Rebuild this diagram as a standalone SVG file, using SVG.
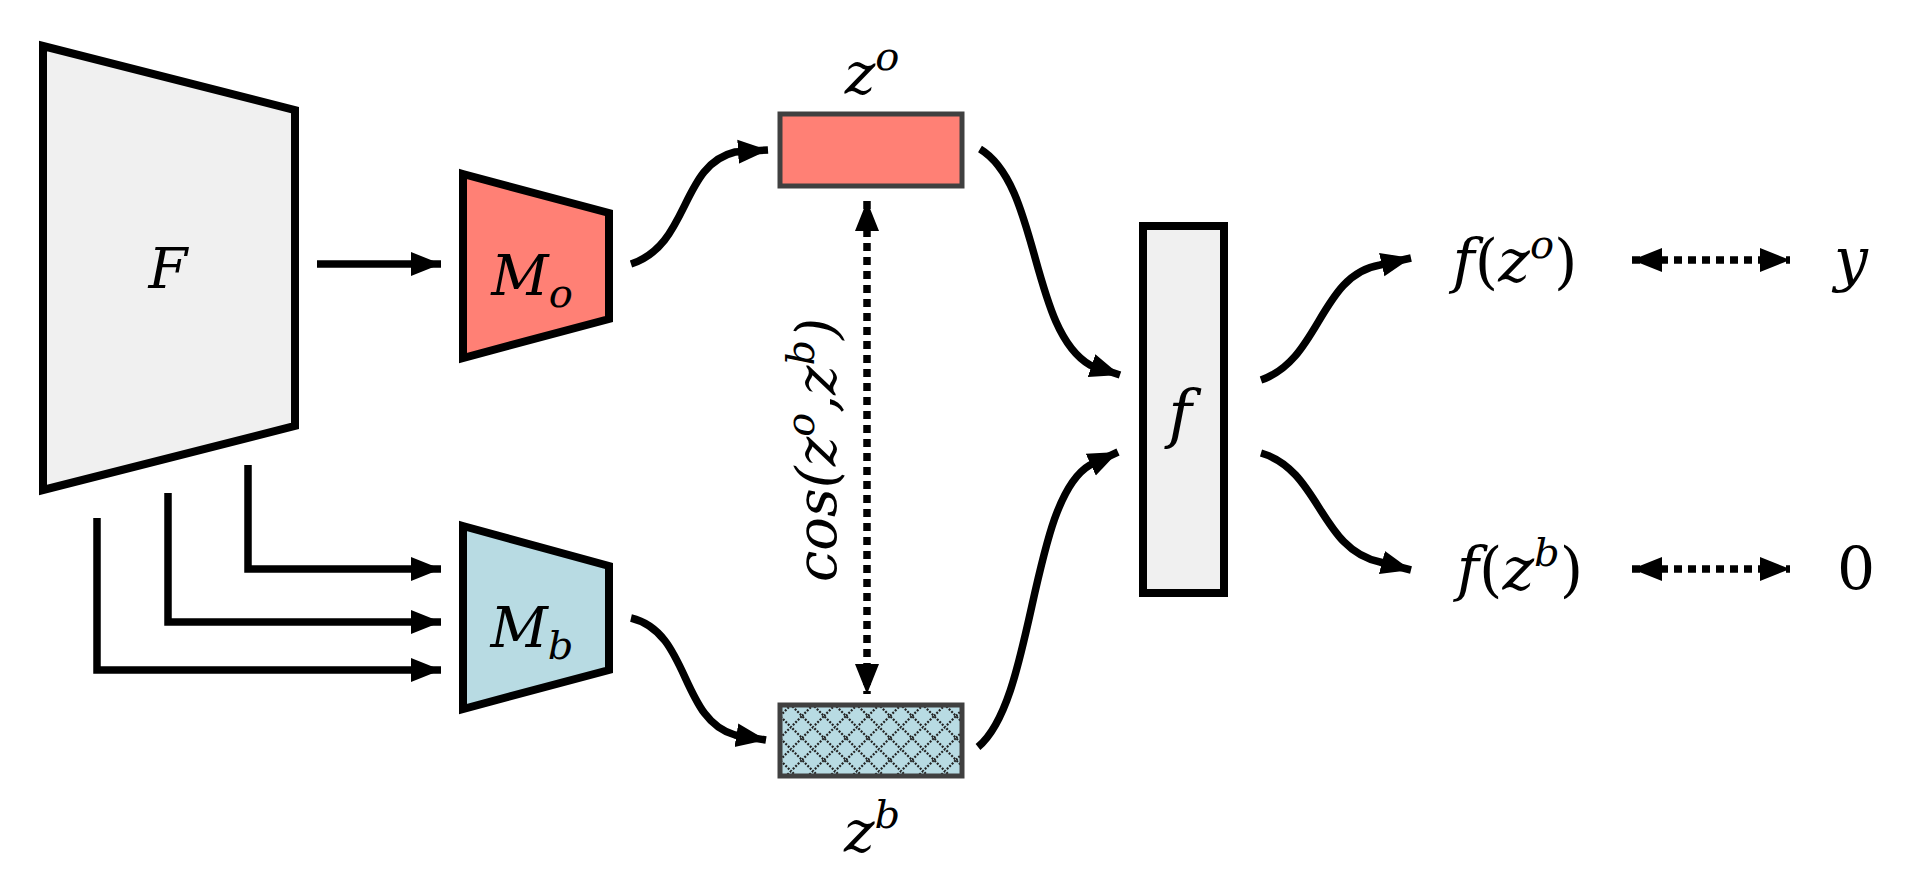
<svg xmlns="http://www.w3.org/2000/svg" width="1910" height="890" viewBox="0 0 1910 890">
<style>
.t{font-family:"DejaVu Serif","Liberation Serif",serif;font-style:italic;fill:#000}
.n{font-family:"DejaVu Serif","Liberation Serif",serif;fill:#000}
.c{fill:none;stroke:#000;stroke-width:7.5}
.d{fill:none;stroke:#000;stroke-width:7.5;stroke-dasharray:8 6}
</style>
<defs>
<marker id="ah" markerUnits="userSpaceOnUse" markerWidth="34" markerHeight="30" refX="30" refY="15" orient="auto-start-reverse"><path d="M0,3 L30,15 L0,27 Z" fill="#000"/></marker>
<pattern id="hx" patternUnits="userSpaceOnUse" width="22" height="22" x="780" y="705">
<rect width="22" height="22" fill="#b8dbe3"/>
<path d="M0,11 L11,0 L22,11 L11,22 Z" fill="none" stroke="#222" stroke-width="2.2" stroke-dasharray="2 1.5"/>
</pattern>
</defs>
<rect width="1910" height="890" fill="#fff"/>
<g id="F"><polygon points="43,46 295,110 295,426 43,490" fill="#f0f0f0" stroke="#000" stroke-width="8"/><text class="t" x="168" y="288" font-size="56" text-anchor="middle">F</text></g>
<g id="Mo"><polygon points="463,174 609,213 609,319 463,358" fill="#ff8075" stroke="#000" stroke-width="8"/><text class="t" x="532" y="295" font-size="56" text-anchor="middle">M<tspan font-size="40" dy="12">o</tspan></text></g>
<g id="Mb"><polygon points="463,526 609,566 609,670 463,709" fill="#b8dbe3" stroke="#000" stroke-width="8"/><text class="t" x="532" y="647" font-size="56" text-anchor="middle">M<tspan font-size="40" dy="12">b</tspan></text></g>
<g id="zo"><rect x="780" y="114" width="182" height="72" fill="#ff8075" stroke="#404040" stroke-width="5"/><text class="t" x="872" y="94" font-size="58" text-anchor="middle">z<tspan font-size="40" dy="-24">o</tspan></text></g>
<g id="zb"><rect x="780" y="705" width="182" height="71" fill="url(#hx)" stroke="#404040" stroke-width="5"/><text class="t" x="872" y="852" font-size="58" text-anchor="middle">z<tspan font-size="40" dy="-24">b</tspan></text></g>
<g id="fbox"><rect x="1143" y="226" width="81" height="367" fill="#f0f0f0" stroke="#000" stroke-width="8"/><text class="t" x="1180" y="436" font-size="64" text-anchor="middle">f</text></g>
<g id="fzo"><text class="t" x="1515" y="282" font-size="60" text-anchor="middle">f<tspan font-style="normal">(</tspan>z<tspan font-size="40" dy="-24">o</tspan><tspan font-style="normal" dy="24">)</tspan></text></g>
<g id="fzb"><text class="t" x="1520" y="590" font-size="60" text-anchor="middle">f<tspan font-style="normal">(</tspan>z<tspan font-size="40" dy="-24">b</tspan><tspan font-style="normal" dy="24">)</tspan></text></g>
<g id="y"><text class="t" x="1851" y="280" font-size="60" text-anchor="middle">y</text></g>
<g id="zero"><text class="n" x="1856" y="590" font-size="60" text-anchor="middle">0</text></g>
<g id="cos"><text class="t" transform="translate(836,450) rotate(-90)" font-size="56" text-anchor="middle">cos(z<tspan font-size="40" dy="-22">o</tspan><tspan dy="22">,z</tspan><tspan font-size="40" dy="-22">b</tspan><tspan dy="22">)</tspan></text></g>
<g id="connectors">
<path class="c" d="M317,264 H441" marker-end="url(#ah)"/>
<path class="c" d="M248,465 V569 H441" marker-end="url(#ah)"/>
<path class="c" d="M168,493 V622 H441" marker-end="url(#ah)"/>
<path class="c" d="M97,518 V670 H441" marker-end="url(#ah)"/>
<path class="c" d="M631,264 C690,245 680,165 735,152 L768,150" marker-end="url(#ah)"/>
<path class="c" d="M631,618 C690,632 680,720 735,735 L766,740" marker-end="url(#ah)"/>
<path class="c" d="M980,149 C1040,185 1030,330 1090,365 L1120,375" marker-end="url(#ah)"/>
<path class="c" d="M978,747 C1035,700 1030,500 1090,465 L1118,452" marker-end="url(#ah)"/>
<path class="c" d="M1261,380 C1320,360 1320,275 1380,265 L1411,258" marker-end="url(#ah)"/>
<path class="c" d="M1261,453 C1320,470 1320,550 1380,562 L1411,570" marker-end="url(#ah)"/>
<path class="d" d="M867,201 V694" marker-start="url(#ah)" marker-end="url(#ah)"/>
<path class="d" d="M1632,260 H1790" marker-start="url(#ah)" marker-end="url(#ah)"/>
<path class="d" d="M1632,569 H1790" marker-start="url(#ah)" marker-end="url(#ah)"/>
</g>
</svg>
